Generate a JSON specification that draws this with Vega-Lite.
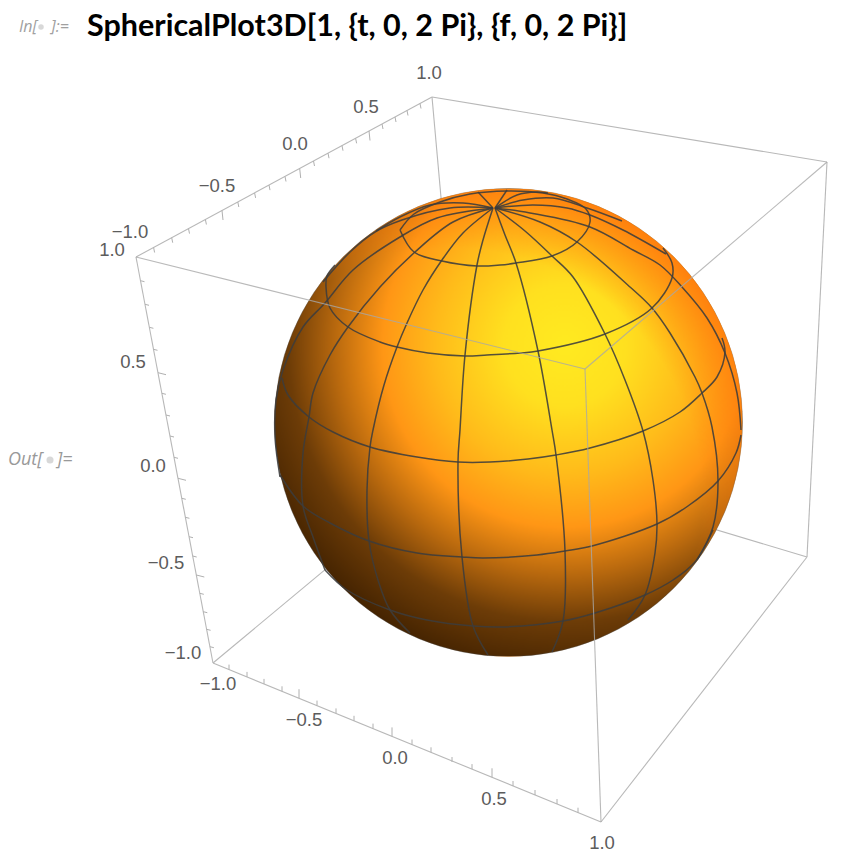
{
"$schema":"https://vega.github.io/schema/vega-lite/v6.json",
"width":842,"height":862,"padding":0,
"autosize":{"type":"fit","contains":"padding"},
"background":"white",
"view":{"stroke":null},
"config":{"axis":{"domain":false}},
"datasets":{
"backEdges":[
{"x":432,"y":97,"x2":464,"y2":454},{"x":213,"y":663,"x2":464,"y2":454},{"x":807,"y":557,"x2":464,"y2":454},
{"x":136,"y":257,"x2":432,"y2":97},{"x":432,"y":97,"x2":827,"y2":162},{"x":136,"y":257,"x2":213,"y2":663},
{"x":827,"y":162,"x2":807,"y2":557},{"x":213,"y":663,"x2":601,"y2":822},{"x":601,"y":822,"x2":807,"y2":557}
],
"frontEdges":[
{"x":136,"y":257,"x2":585,"y2":369},{"x":827,"y":162,"x2":585,"y2":369},{"x":585,"y":369,"x2":601,"y2":822}
],
"ticks":[
{"x":140.5,"y":280.7,"x2":144.5,"y2":281.7},{"x":145,"y":304.3,"x2":149,"y2":305.3},{"x":149.4,"y":327.3,"x2":153.4,"y2":328.3},{"x":153.5,"y":349.3,"x2":157.5,"y2":350.3},{"x":158,"y":372.7,"x2":166,"y2":374.7},{"x":161.9,"y":393.3,"x2":165.9,"y2":394.3},{"x":166,"y":415,"x2":170,"y2":416},{"x":170,"y":436,"x2":174,"y2":437},{"x":174,"y":457.3,"x2":178,"y2":458.3},{"x":178,"y":478.3,"x2":186,"y2":480.3},{"x":181.8,"y":498.3,"x2":185.8,"y2":499.3},{"x":185.4,"y":517.3,"x2":189.4,"y2":518.3},{"x":189,"y":536.7,"x2":193,"y2":537.7},{"x":192.7,"y":556,"x2":196.7,"y2":557},{"x":196.3,"y":575,"x2":204.3,"y2":577},{"x":199.8,"y":593.3,"x2":203.8,"y2":594.3},{"x":203.3,"y":611.7,"x2":207.3,"y2":612.7},{"x":206.6,"y":629.3,"x2":210.6,"y2":630.3},{"x":209.9,"y":646.7,"x2":213.9,"y2":647.7},
{"x":153.6,"y":247.5,"x2":154.6,"y2":252.5},{"x":171.7,"y":237.7,"x2":172.7,"y2":242.7},{"x":188.5,"y":228.6,"x2":189.5,"y2":233.6},{"x":205.4,"y":219.5,"x2":206.4,"y2":224.5},{"x":222,"y":210.5,"x2":223,"y2":220},{"x":237.8,"y":202,"x2":238.8,"y2":207},{"x":254.6,"y":192.9,"x2":255.6,"y2":197.9},{"x":269,"y":185.1,"x2":270,"y2":190.1},{"x":285,"y":176.5,"x2":286,"y2":181.5},{"x":299.7,"y":168.5,"x2":300.7,"y2":178},{"x":313.5,"y":161,"x2":314.5,"y2":166},{"x":328,"y":153.2,"x2":329,"y2":158.2},{"x":342,"y":145.7,"x2":343,"y2":150.7},{"x":355.6,"y":138.3,"x2":356.6,"y2":143.3},{"x":369,"y":131,"x2":370,"y2":140.5},{"x":382,"y":124,"x2":383,"y2":129},{"x":395,"y":117,"x2":396,"y2":122},{"x":407,"y":110.5,"x2":408,"y2":115.5},{"x":420,"y":103.5,"x2":421,"y2":108.5},
{"x":229,"y":669.6,"x2":229,"y2":664.6},{"x":247,"y":676.9,"x2":247,"y2":671.9},{"x":264,"y":683.9,"x2":264,"y2":678.9},{"x":282,"y":691.3,"x2":282,"y2":686.3},{"x":299,"y":698.2,"x2":299,"y2":689.2},{"x":317,"y":705.6,"x2":317,"y2":700.6},{"x":336,"y":713.4,"x2":336,"y2":708.4},{"x":354,"y":720.8,"x2":354,"y2":715.8},{"x":373,"y":728.6,"x2":373,"y2":723.6},{"x":392,"y":736.4,"x2":392,"y2":727.4},{"x":412,"y":744.5,"x2":412,"y2":739.5},{"x":431,"y":752.3,"x2":431,"y2":747.3},{"x":452,"y":762,"x2":452,"y2":757},{"x":472,"y":769.1,"x2":472,"y2":764.1},{"x":492,"y":777.3,"x2":492,"y2":768.3},{"x":513,"y":786,"x2":513,"y2":781},{"x":535,"y":795,"x2":535,"y2":790},{"x":557,"y":804,"x2":557,"y2":799},{"x":578,"y":812.7,"x2":578,"y2":807.7}
],
"grid":[
{"g":"L1","i":0,"x":400,"y":230},{"g":"L1","i":1,"x":414,"y":252},{"g":"L1","i":2,"x":442,"y":261},{"g":"L1","i":3,"x":477,"y":266},{"g":"L1","i":4,"x":500,"y":265},{"g":"L1","i":5,"x":516,"y":263},{"g":"L1","i":6,"x":552,"y":256},{"g":"L1","i":7,"x":577,"y":242},{"g":"L1","i":8,"x":590,"y":222},{"g":"L1","i":9,"x":586,"y":209},{"g":"L1","i":10,"x":567,"y":199},{"g":"L1","i":11,"x":543,"y":193},{"g":"L1","i":12,"x":507,"y":191},{"g":"L1","i":13,"x":470,"y":194},{"g":"L1","i":14,"x":440,"y":202},{"g":"L1","i":15,"x":414,"y":214},{"g":"L1","i":16,"x":400,"y":230},
{"g":"L2","i":0,"x":335,"y":265},{"g":"L2","i":1,"x":327,"y":276},{"g":"L2","i":2,"x":326,"y":287},{"g":"L2","i":3,"x":330,"y":308},{"g":"L2","i":4,"x":348,"y":327},{"g":"L2","i":5,"x":380,"y":342},{"g":"L2","i":6,"x":397,"y":347},{"g":"L2","i":7,"x":428,"y":353},{"g":"L2","i":8,"x":465,"y":356},{"g":"L2","i":9,"x":487,"y":355},{"g":"L2","i":10,"x":520,"y":353},{"g":"L2","i":11,"x":538,"y":351},{"g":"L2","i":12,"x":605,"y":334},{"g":"L2","i":13,"x":652,"y":308},{"g":"L2","i":14,"x":672,"y":278},{"g":"L2","i":15,"x":672,"y":263},{"g":"L2","i":16,"x":663,"y":248},
{"g":"L3","i":0,"x":282,"y":378},{"g":"L3","i":1,"x":288,"y":395},{"g":"L3","i":2,"x":309,"y":417},{"g":"L3","i":3,"x":333,"y":432},{"g":"L3","i":4,"x":370,"y":447},{"g":"L3","i":5,"x":417,"y":457},{"g":"L3","i":6,"x":458,"y":462},{"g":"L3","i":7,"x":490,"y":462},{"g":"L3","i":8,"x":528,"y":459},{"g":"L3","i":9,"x":556,"y":455},{"g":"L3","i":10,"x":590,"y":448},{"g":"L3","i":11,"x":643,"y":431},{"g":"L3","i":12,"x":680,"y":412},{"g":"L3","i":13,"x":702,"y":393},{"g":"L3","i":14,"x":717,"y":377},{"g":"L3","i":15,"x":725,"y":352},{"g":"L3","i":16,"x":722,"y":338},
{"g":"L4","i":0,"x":280,"y":475},{"g":"L4","i":1,"x":303,"y":506},{"g":"L4","i":2,"x":330,"y":523},{"g":"L4","i":3,"x":369,"y":541},{"g":"L4","i":4,"x":417,"y":553},{"g":"L4","i":5,"x":462,"y":557},{"g":"L4","i":6,"x":483,"y":558},{"g":"L4","i":7,"x":537,"y":555},{"g":"L4","i":8,"x":565,"y":551},{"g":"L4","i":9,"x":592,"y":546},{"g":"L4","i":10,"x":657,"y":524},{"g":"L4","i":11,"x":688,"y":506},{"g":"L4","i":12,"x":718,"y":481},{"g":"L4","i":13,"x":736,"y":453},{"g":"L4","i":14,"x":741,"y":435},
{"g":"L5","i":0,"x":325,"y":570},{"g":"L5","i":1,"x":347,"y":590},{"g":"L5","i":2,"x":390,"y":610},{"g":"L5","i":3,"x":427,"y":620},{"g":"L5","i":4,"x":473,"y":626},{"g":"L5","i":5,"x":503,"y":627},{"g":"L5","i":6,"x":563,"y":621},{"g":"L5","i":7,"x":595,"y":613},{"g":"L5","i":8,"x":645,"y":595},{"g":"L5","i":9,"x":673,"y":580},{"g":"L5","i":10,"x":695,"y":562},{"g":"L5","i":11,"x":713,"y":530},
{"g":"M1","i":0,"x":493,"y":208},{"g":"M1","i":1,"x":453,"y":222},{"g":"M1","i":2,"x":415,"y":252},{"g":"M1","i":3,"x":380,"y":287},{"g":"M1","i":4,"x":348,"y":327},{"g":"M1","i":5,"x":330,"y":355},{"g":"M1","i":6,"x":313,"y":393},{"g":"M1","i":7,"x":309,"y":417},{"g":"M1","i":8,"x":303,"y":453},{"g":"M1","i":9,"x":303,"y":506},{"g":"M1","i":10,"x":313,"y":537},{"g":"M1","i":11,"x":325,"y":570},
{"g":"M2","i":0,"x":493,"y":208},{"g":"M2","i":1,"x":463,"y":233},{"g":"M2","i":2,"x":442,"y":260},{"g":"M2","i":3,"x":423,"y":290},{"g":"M2","i":4,"x":407,"y":323},{"g":"M2","i":5,"x":397,"y":347},{"g":"M2","i":6,"x":384,"y":385},{"g":"M2","i":7,"x":373,"y":430},{"g":"M2","i":8,"x":370,"y":447},{"g":"M2","i":9,"x":367,"y":490},{"g":"M2","i":10,"x":369,"y":541},{"g":"M2","i":11,"x":378,"y":580},{"g":"M2","i":12,"x":390,"y":610},{"g":"M2","i":13,"x":410,"y":633},
{"g":"M3","i":0,"x":493,"y":208},{"g":"M3","i":1,"x":483,"y":240},{"g":"M3","i":2,"x":477,"y":265},{"g":"M3","i":3,"x":465,"y":355},{"g":"M3","i":4,"x":460,"y":430},{"g":"M3","i":5,"x":458,"y":462},{"g":"M3","i":6,"x":462,"y":557},{"g":"M3","i":7,"x":473,"y":626},{"g":"M3","i":8,"x":488,"y":655},
{"g":"M4","i":0,"x":495,"y":208},{"g":"M4","i":1,"x":505,"y":235},{"g":"M4","i":2,"x":516,"y":263},{"g":"M4","i":3,"x":538,"y":351},{"g":"M4","i":4,"x":552,"y":430},{"g":"M4","i":5,"x":556,"y":455},{"g":"M4","i":6,"x":565,"y":551},{"g":"M4","i":7,"x":563,"y":621},{"g":"M4","i":8,"x":552,"y":652},
{"g":"M5","i":0,"x":495,"y":208},{"g":"M5","i":1,"x":525,"y":231},{"g":"M5","i":2,"x":552,"y":256},{"g":"M5","i":3,"x":573,"y":277},{"g":"M5","i":4,"x":605,"y":334},{"g":"M5","i":5,"x":625,"y":380},{"g":"M5","i":6,"x":643,"y":431},{"g":"M5","i":7,"x":653,"y":480},{"g":"M5","i":8,"x":657,"y":524},{"g":"M5","i":9,"x":655,"y":553},{"g":"M5","i":10,"x":645,"y":595},{"g":"M5","i":11,"x":628,"y":620},
{"g":"M6","i":0,"x":495,"y":208},{"g":"M6","i":1,"x":540,"y":222},{"g":"M6","i":2,"x":577,"y":242},{"g":"M6","i":3,"x":630,"y":287},{"g":"M6","i":4,"x":652,"y":308},{"g":"M6","i":5,"x":670,"y":333},{"g":"M6","i":6,"x":695,"y":377},{"g":"M6","i":7,"x":702,"y":393},{"g":"M6","i":8,"x":712,"y":427},{"g":"M6","i":9,"x":718,"y":481},{"g":"M6","i":10,"x":713,"y":527},{"g":"M6","i":11,"x":697,"y":560},
{"g":"M7","i":0,"x":495,"y":208},{"g":"M7","i":1,"x":530,"y":213},{"g":"M7","i":2,"x":590,"y":227},{"g":"M7","i":3,"x":633,"y":250},{"g":"M7","i":4,"x":660,"y":265},{"g":"M7","i":5,"x":682,"y":287},{"g":"M7","i":6,"x":707,"y":318},{"g":"M7","i":7,"x":725,"y":353},{"g":"M7","i":8,"x":737,"y":393},{"g":"M7","i":9,"x":741,"y":430},
{"g":"M8","i":0,"x":495,"y":208},{"g":"M8","i":1,"x":533,"y":205},{"g":"M8","i":2,"x":567,"y":208},{"g":"M8","i":3,"x":590,"y":215},{"g":"M8","i":4,"x":623,"y":230},{"g":"M8","i":5,"x":666,"y":254},
{"g":"M9","i":0,"x":495,"y":208},{"g":"M9","i":1,"x":523,"y":200},{"g":"M9","i":2,"x":553,"y":198},{"g":"M9","i":3,"x":587,"y":208},{"g":"M9","i":4,"x":622,"y":221},
{"g":"M10","i":0,"x":495,"y":208},{"g":"M10","i":1,"x":517,"y":195},{"g":"M10","i":2,"x":537,"y":192},{"g":"M10","i":3,"x":548,"y":193},
{"g":"M11","i":0,"x":495,"y":208},{"g":"M11","i":1,"x":507,"y":190},
{"g":"M12","i":0,"x":493,"y":208},{"g":"M12","i":1,"x":478,"y":192},
{"g":"M13","i":0,"x":493,"y":208},{"g":"M13","i":1,"x":463,"y":203},{"g":"M13","i":2,"x":430,"y":205},{"g":"M13","i":3,"x":400,"y":217},{"g":"M13","i":4,"x":376,"y":231},
{"g":"M14","i":0,"x":493,"y":208},{"g":"M14","i":1,"x":450,"y":208},{"g":"M14","i":2,"x":402,"y":220},{"g":"M14","i":3,"x":375,"y":232},{"g":"M14","i":4,"x":350,"y":252},{"g":"M14","i":5,"x":323,"y":282},
{"g":"M15","i":0,"x":493,"y":208},{"g":"M15","i":1,"x":437,"y":218},{"g":"M15","i":2,"x":400,"y":237},{"g":"M15","i":3,"x":353,"y":270},{"g":"M15","i":4,"x":325,"y":303},{"g":"M15","i":5,"x":303,"y":327},{"g":"M15","i":6,"x":283,"y":370},{"g":"M15","i":7,"x":276,"y":400},{"g":"M15","i":8,"x":275,"y":437},{"g":"M15","i":9,"x":280,"y":477}
],
"labels":[
{"t":"1.0","x":429,"y":73},{"t":"0.5","x":366,"y":107},{"t":"0.0","x":295,"y":144},{"t":"−0.5","x":217,"y":186},{"t":"−1.0","x":130,"y":232},
{"t":"1.0","x":112,"y":250},{"t":"0.5","x":133,"y":362},{"t":"0.0","x":153,"y":466},{"t":"−0.5","x":166,"y":563},{"t":"−1.0","x":183,"y":653},
{"t":"−1.0","x":218,"y":684},{"t":"−0.5","x":304,"y":720},{"t":"0.0","x":395,"y":758},{"t":"0.5","x":494,"y":799},{"t":"1.0","x":602,"y":843}
],
"sphere":[{"x":508.5,"y":422.5}],
"title":[{"t":"SphericalPlot3D[1, {t, 0, 2 Pi}, {f, 0, 2 Pi}]","x":87,"y":27}],
"promptIn":[{"t":"In[","x":19,"y":27},{"t":"]:=","x":51,"y":27}],
"promptOut":[{"t":"Out[","x":8,"y":460},{"t":"]=","x":57,"y":460}],
"bullets":[{"x":41,"y":27,"s":30},{"x":50,"y":460,"s":50}]
},
"encoding":{
"x":{"field":"x","type":"quantitative","scale":{"domain":[0,842],"nice":false,"zero":false},"axis":null},
"y":{"field":"y","type":"quantitative","scale":{"domain":[0,862],"reverse":true,"nice":false,"zero":false},"axis":null}
},
"layer":[
{"data":{"name":"backEdges"},"mark":{"type":"rule","color":"#b8b8b8","strokeWidth":1.1},"encoding":{"x2":{"field":"x2"},"y2":{"field":"y2"}}},
{"data":{"name":"ticks"},"mark":{"type":"rule","color":"#b0b0b0","strokeWidth":1},"encoding":{"x2":{"field":"x2"},"y2":{"field":"y2"}}},
{"data":{"name":"sphere"},"mark":{"type":"point","filled":true,"opacity":1,"size":219024,"stroke":"#4a4a4a","strokeWidth":0.8,"strokeOpacity":0.45,
"fill":{"gradient":"radial","x1":0.62,"y1":0.335,"r1":0,"x2":0.62,"y2":0.335,"r2":0.72,"stops":[
{"offset":0,"color":"#ffea20"},{"offset":0.18,"color":"#ffe01f"},{"offset":0.38,"color":"#ffbb1a"},{"offset":0.54,"color":"#ff9615"},{"offset":0.68,"color":"#b9690e"},{"offset":0.82,"color":"#6d3c07"},{"offset":1,"color":"#3f2000"}]}}},
{"data":{"name":"sphere"},"mark":{"type":"point","filled":true,"opacity":1,"size":219024,"strokeWidth":0,
"fill":{"gradient":"radial","x1":0.38,"y1":0.66,"r1":0,"x2":0.38,"y2":0.66,"r2":0.7,"stops":[
{"offset":0,"color":"rgba(255,125,10,0)"},{"offset":0.76,"color":"rgba(255,125,10,0)"},{"offset":1,"color":"rgba(255,115,10,0.8)"}]}}},
{"data":{"name":"grid"},"mark":{"type":"line","color":"#3c3c3c","strokeWidth":1.5,"opacity":0.88,"interpolate":"catmull-rom"},"encoding":{"detail":{"field":"g"},"order":{"field":"i"}}},
{"data":{"name":"frontEdges"},"mark":{"type":"rule","color":"#a8a8a8","strokeWidth":1.1,"opacity":0.8},"encoding":{"x2":{"field":"x2"},"y2":{"field":"y2"}}},
{"data":{"name":"labels"},"mark":{"type":"text","font":"Liberation Sans","fontSize":18.5,"color":"#5c5c5c","align":"center","baseline":"middle"},"encoding":{"text":{"field":"t"}}},
{"data":{"name":"title"},"mark":{"type":"text","font":"Lato","fontWeight":"bold","fontSize":30.5,"color":"#000000","align":"left","baseline":"middle"},"encoding":{"text":{"field":"t"}}},
{"data":{"name":"promptIn"},"mark":{"type":"text","font":"Open Sans","fontStyle":"italic","fontSize":16,"color":"#a0a0a0","align":"left","baseline":"middle"},"encoding":{"text":{"field":"t"}}},
{"data":{"name":"promptOut"},"mark":{"type":"text","font":"Open Sans","fontStyle":"italic","fontSize":18,"color":"#999999","align":"left","baseline":"middle"},"encoding":{"text":{"field":"t"}}},
{"data":{"name":"bullets"},"mark":{"type":"point","filled":true,"opacity":1,"color":"#d8d8d8","shape":"circle"},"encoding":{"size":{"field":"s","type":"quantitative","scale":null}}}
]
}
